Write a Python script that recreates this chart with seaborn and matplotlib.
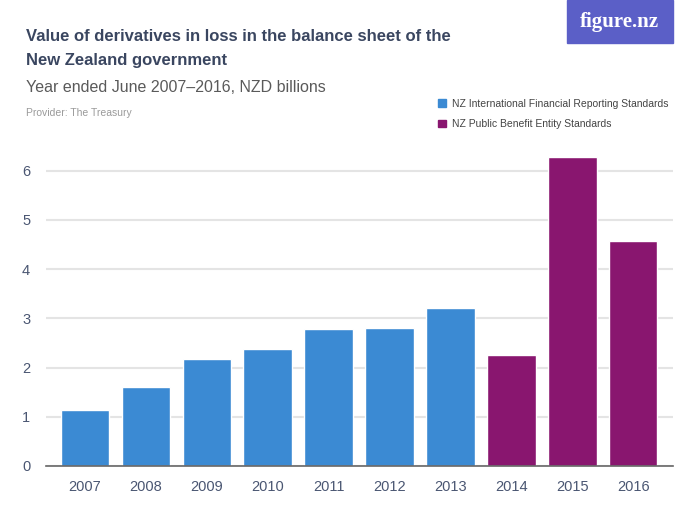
import matplotlib.pyplot as plt
import pandas as pd
import seaborn as sns
from matplotlib.patches import Patch, Rectangle

# Data (NZD billions)
years = ["2007", "2008", "2009", "2010", "2011", "2012", "2013", "2014", "2015", "2016"]
values = [1.14, 1.60, 2.17, 2.38, 2.78, 2.81, 3.20, 2.25, 6.27, 4.58]
standards = ["NZ International Financial Reporting Standards"] * 7 + \
            ["NZ Public Benefit Entity Standards"] * 3
series_names = ["NZ International Financial Reporting Standards",
                "NZ Public Benefit Entity Standards"]
colors = ["#3b8ad3", "#89166f"]

df = pd.DataFrame({"year": years, "value": values, "standard": standards})

sns.set_style("white")
plt.rcParams["font.family"] = ["Liberation Sans", "DejaVu Sans"]

fig = plt.figure(figsize=(7, 5.25), dpi=100)
ax = fig.add_axes([0.065, 0.1124, 0.896, 0.60])

sns.barplot(data=df, x="year", y="value", hue="standard", hue_order=series_names,
            palette=colors, dodge=False, width=0.8, saturation=1, ax=ax, legend=False)

ax.set_xlim(-0.65, 9.65)
ax.set_ylim(0, 6.4)
ax.set_yticks(range(0, 7))
ax.grid(axis="y", color="#e4e4e4", linewidth=1.5)
ax.set_axisbelow(True)
for s in ["top", "right", "left"]:
    ax.spines[s].set_visible(False)
ax.spines["bottom"].set_color("#666666")
ax.spines["bottom"].set_linewidth(1.2)
ax.set_xlabel("")
ax.set_ylabel("")
ax.tick_params(axis="x", length=6, width=1.5, color="#b0b0b0", labelsize=10.5,
               labelcolor="#4a5672", pad=4)
ax.tick_params(axis="y", length=0, labelsize=10.5, labelcolor="#4a5672", pad=11)

# Titles
fig.text(0.037, 0.945, "Value of derivatives in loss in the balance sheet of the\nNew Zealand government",
         fontsize=12, fontweight="bold", color="#3a4660", va="top", linespacing=1.75)
fig.text(0.037, 0.833, "Year ended June 2007\u20132016, NZD billions",
         fontsize=11.5, color="#5a5a5a", va="center")
fig.text(0.037, 0.784, "Provider: The Treasury", fontsize=7.5, color="#9a9a9a", va="center")

# Logo box
fig.patches.append(Rectangle((0.81, 0.918), 0.151, 0.082, transform=fig.transFigure,
                             color="#5b5fc7", zorder=0))
fig.text(0.885, 0.958, "figure.nz", fontsize=15, color="white", fontweight="bold",
         ha="center", va="center", family=["Liberation Serif", "DejaVu Serif"])

# Legend
handles = [Patch(color=c, label=n) for c, n in zip(colors, series_names)]
fig.legend(handles=handles, loc="upper left", bbox_to_anchor=(0.613, 0.83),
           frameon=False, fontsize=7.5, handlelength=0.7, handleheight=0.7,
           handletextpad=0.6, labelspacing=1.0, labelcolor="#444444")

fig.savefig("out.png", dpi=100)
